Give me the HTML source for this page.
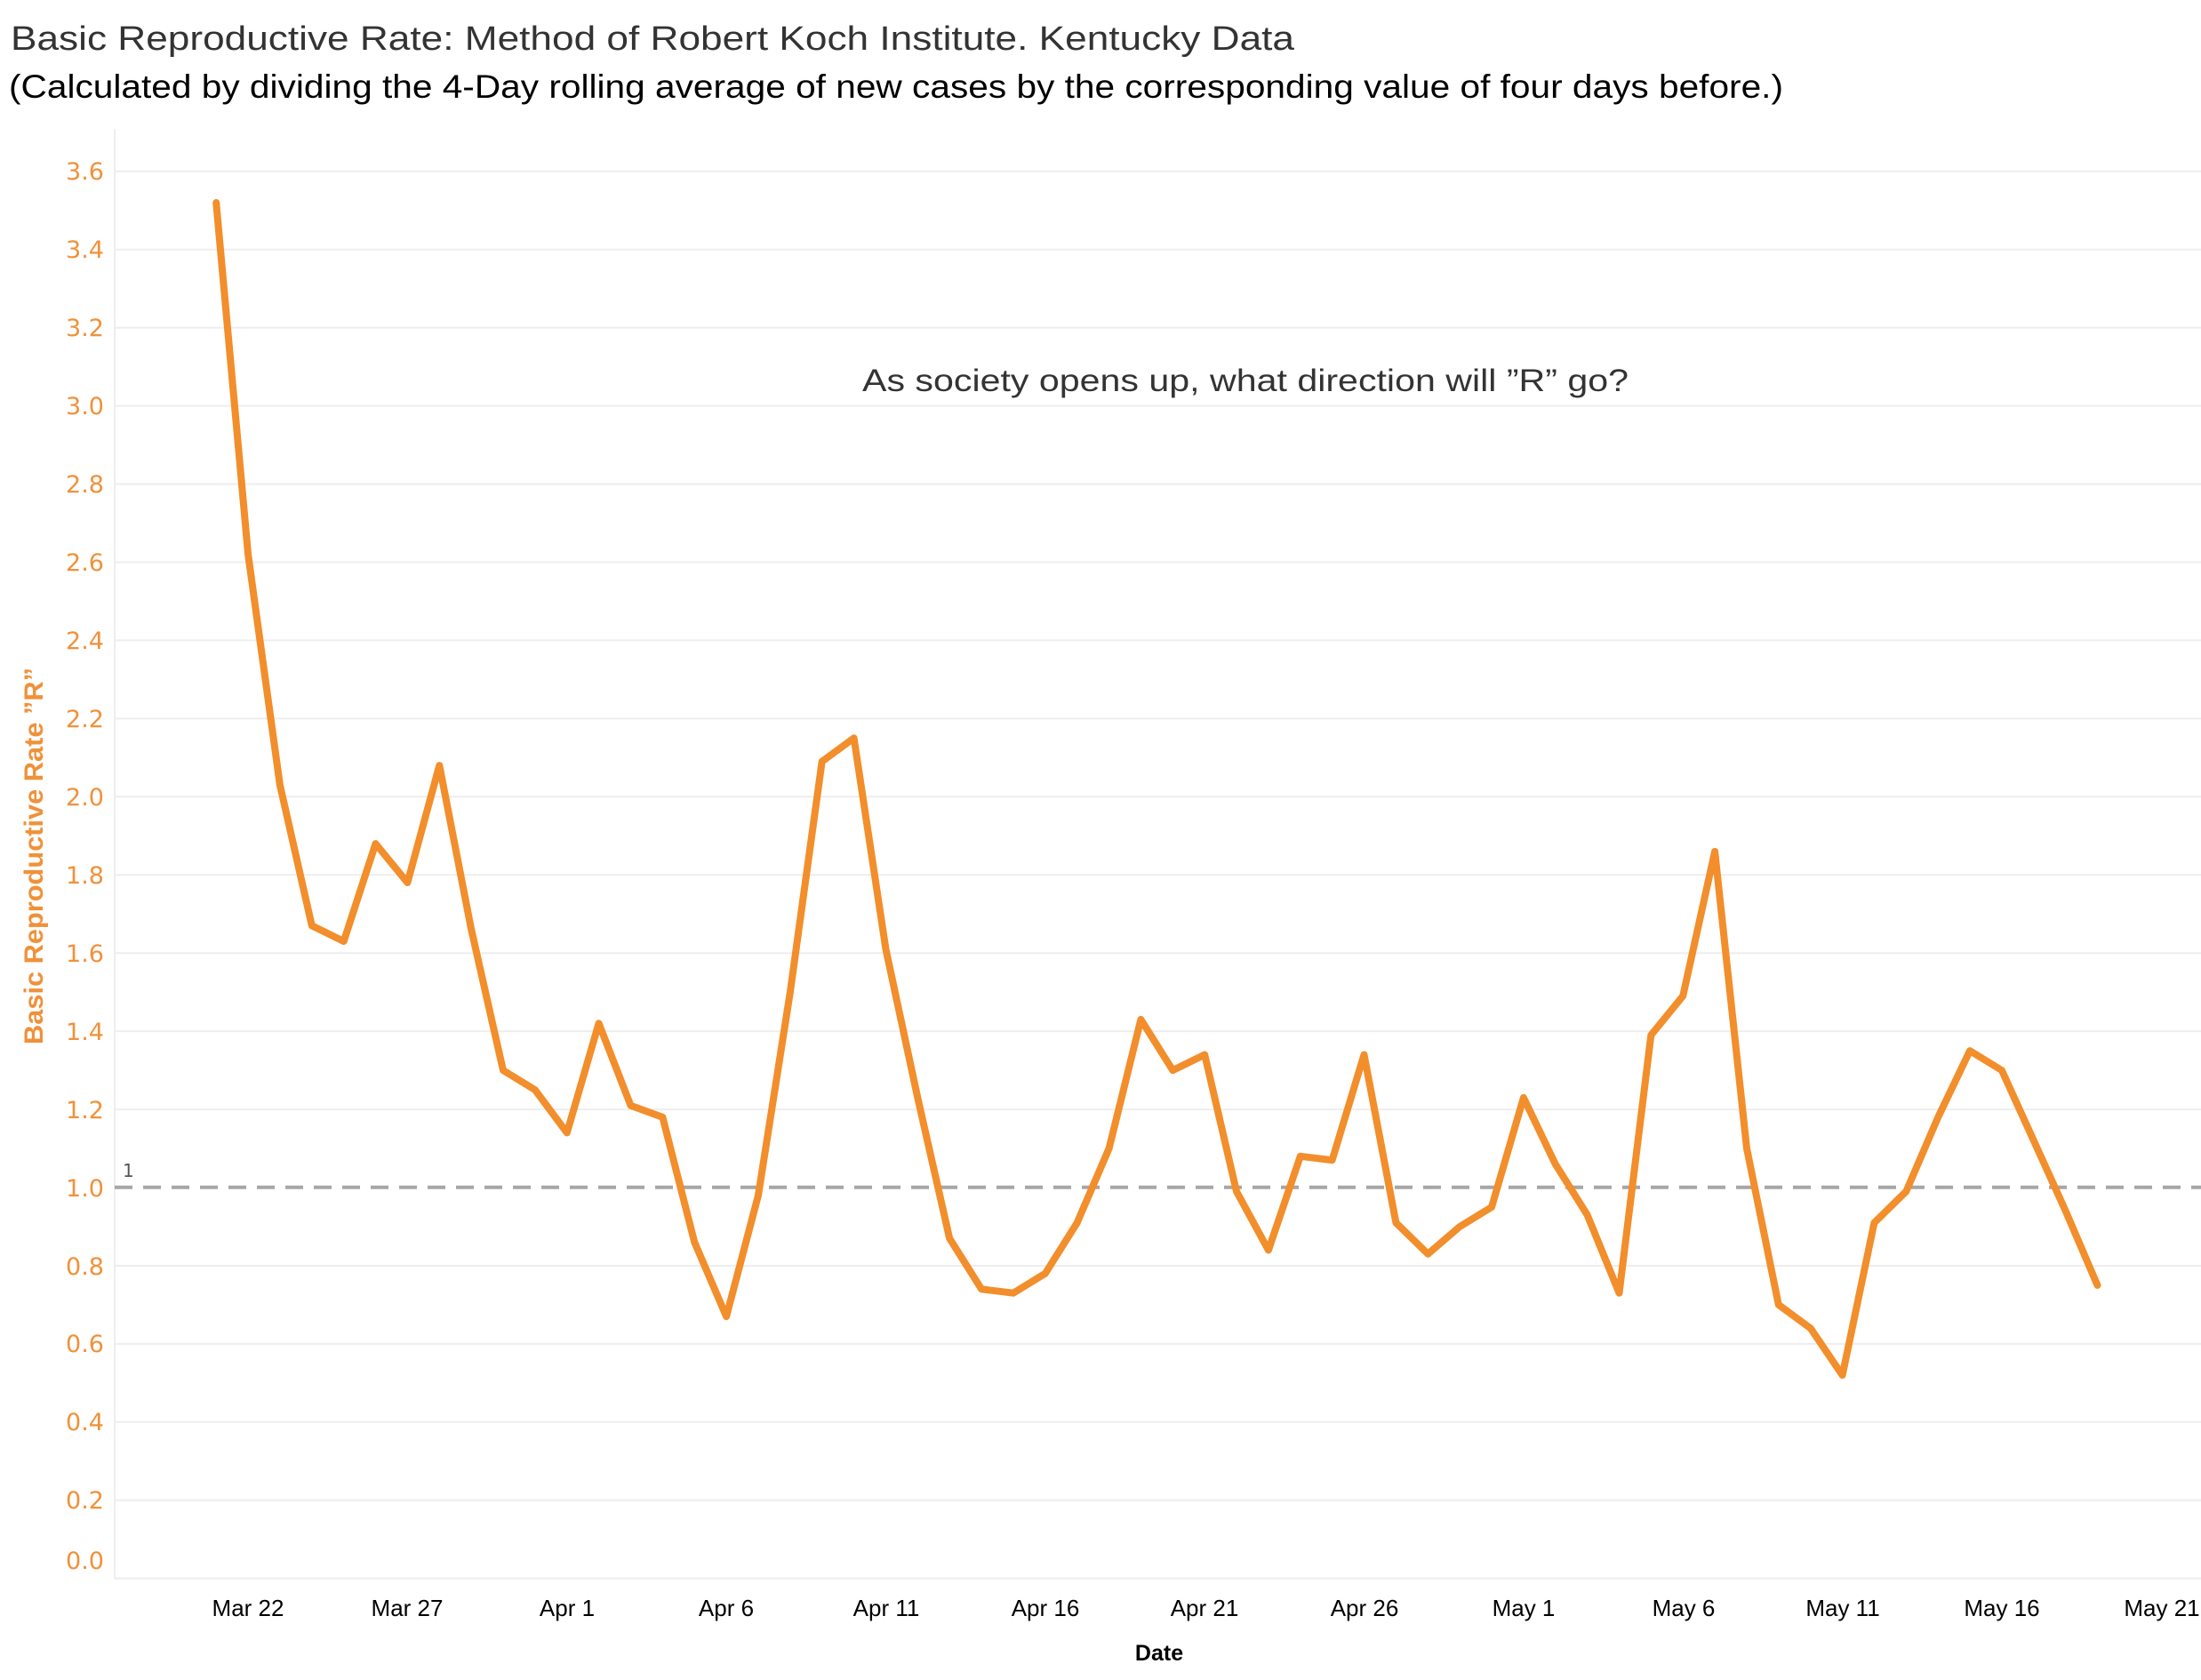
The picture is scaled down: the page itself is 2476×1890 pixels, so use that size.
<!DOCTYPE html>
<html><head><meta charset="utf-8"><style>html,body{margin:0;padding:0;background:#fff}svg{display:block}</style></head>
<body>
<svg width="2476" height="1890" viewBox="0 0 2476 1890" xmlns="http://www.w3.org/2000/svg">
<text x="12" y="56" font-family="Liberation Sans Narrow, Liberation Sans, sans-serif" font-size="38" fill="#333" textLength="1444" lengthAdjust="spacingAndGlyphs">Basic Reproductive Rate: Method of Robert Koch Institute. Kentucky Data</text>
<text x="10" y="110" font-family="Liberation Sans, sans-serif" font-size="37" fill="#000" textLength="1996" lengthAdjust="spacingAndGlyphs">(Calculated by dividing the 4-Day rolling average of new cases by the corresponding  value of four days before.)</text>
<g stroke="#eeeeee" stroke-width="2">
<line x1="129" x2="2476" y1="192.8" y2="192.8"/><line x1="129" x2="2476" y1="280.7" y2="280.7"/><line x1="129" x2="2476" y1="368.7" y2="368.7"/><line x1="129" x2="2476" y1="456.6" y2="456.6"/><line x1="129" x2="2476" y1="544.6" y2="544.6"/><line x1="129" x2="2476" y1="632.5" y2="632.5"/><line x1="129" x2="2476" y1="720.4" y2="720.4"/><line x1="129" x2="2476" y1="808.4" y2="808.4"/><line x1="129" x2="2476" y1="896.3" y2="896.3"/><line x1="129" x2="2476" y1="984.3" y2="984.3"/><line x1="129" x2="2476" y1="1072.2" y2="1072.2"/><line x1="129" x2="2476" y1="1160.1" y2="1160.1"/><line x1="129" x2="2476" y1="1248.1" y2="1248.1"/><line x1="129" x2="2476" y1="1424" y2="1424"/><line x1="129" x2="2476" y1="1511.9" y2="1511.9"/><line x1="129" x2="2476" y1="1599.8" y2="1599.8"/><line x1="129" x2="2476" y1="1687.8" y2="1687.8"/><line x1="129" x2="2476" y1="1775.7" y2="1775.7"/>
<line x1="129" x2="129" y1="145" y2="1776"/>
</g>
<g font-family="DejaVu Sans, sans-serif" font-size="27" fill="#f0913a" text-anchor="end">
<text x="117" y="202">3.6</text><text x="117" y="290">3.4</text><text x="117" y="378">3.2</text><text x="117" y="466">3.0</text><text x="117" y="554">2.8</text><text x="117" y="642">2.6</text><text x="117" y="730">2.4</text><text x="117" y="818">2.2</text><text x="117" y="906">2.0</text><text x="117" y="994">1.8</text><text x="117" y="1082">1.6</text><text x="117" y="1170">1.4</text><text x="117" y="1258">1.2</text><text x="117" y="1346">1.0</text><text x="117" y="1434">0.8</text><text x="117" y="1521">0.6</text><text x="117" y="1609">0.4</text><text x="117" y="1697">0.2</text><text x="117" y="1765">0.0</text>
</g>
<text transform="translate(48,963) rotate(-90)" text-anchor="middle" font-family="Liberation Sans Narrow, Liberation Sans, sans-serif" font-size="30" font-weight="bold" fill="#f0913a" textLength="424" lengthAdjust="spacingAndGlyphs">Basic Reproductive Rate ”R”</text>
<line x1="129" x2="2476" y1="1335.7" y2="1335.7" stroke="#a6a6a6" stroke-width="4" stroke-dasharray="20,12"/>
<text x="138" y="1324" font-family="DejaVu Sans, sans-serif" font-size="20" fill="#555">1</text>
<g stroke="#e6e6e6" stroke-width="2" id="ticks"></g>
<g font-family="Liberation Sans, sans-serif" font-size="26" fill="#000" text-anchor="middle">
<text x="279" y="1818">Mar 22</text><text x="458" y="1818">Mar 27</text><text x="638" y="1818">Apr 1</text><text x="817" y="1818">Apr 6</text><text x="997" y="1818">Apr 11</text><text x="1176" y="1818">Apr 16</text><text x="1355" y="1818">Apr 21</text><text x="1535" y="1818">Apr 26</text><text x="1714" y="1818">May 1</text><text x="1894" y="1818">May 6</text><text x="2073" y="1818">May 11</text><text x="2252" y="1818">May 16</text><text x="2432" y="1818">May 21</text>
</g>
<text x="1304" y="1868" text-anchor="middle" font-family="Liberation Sans, sans-serif" font-size="25" font-weight="bold" fill="#000">Date</text>
<text x="970" y="440" font-family="Liberation Sans, sans-serif" font-size="35" fill="#333" textLength="862" lengthAdjust="spacingAndGlyphs">As society opens up, what  direction will ”R” go?</text>
<polyline fill="none" stroke="#f28e2b" stroke-width="8" stroke-linejoin="round" stroke-linecap="round" id="ln" points=""/>
<script>
var v=[3.52,2.62,2.03,1.67,1.63,1.88,1.78,2.08,1.66,1.30,1.25,1.14,1.42,1.21,1.18,0.86,0.67,0.98,1.50,2.09,2.15,1.61,1.23,0.87,0.74,0.73,0.78,0.91,1.10,1.43,1.30,1.34,0.99,0.84,1.08,1.07,1.34,0.91,0.83,0.90,0.95,1.23,1.06,0.93,0.73,1.39,1.49,1.86,1.10,0.70,0.64,0.52,0.91,0.99,1.18,1.35,1.30,1.12,0.94,0.75];
var p=v.map(function(y,i){return (243.2+35.87*i).toFixed(1)+","+(1775.7-y*439.7).toFixed(1)}).join(" ");
document.getElementById("ln").setAttribute("points",p);
var g=document.getElementById("ticks"),s="";
for(var d=-4;d<=61;d++){var x=279+35.87*d;if(x<130||x>2470)continue;var L=(d%5==0)?14:7;s+='<line x1="'+x+'" x2="'+x+'" y1="1778" y2="'+(1778+L)+'"/>';}
g.innerHTML=s;
</script>
</svg>
</body></html>
